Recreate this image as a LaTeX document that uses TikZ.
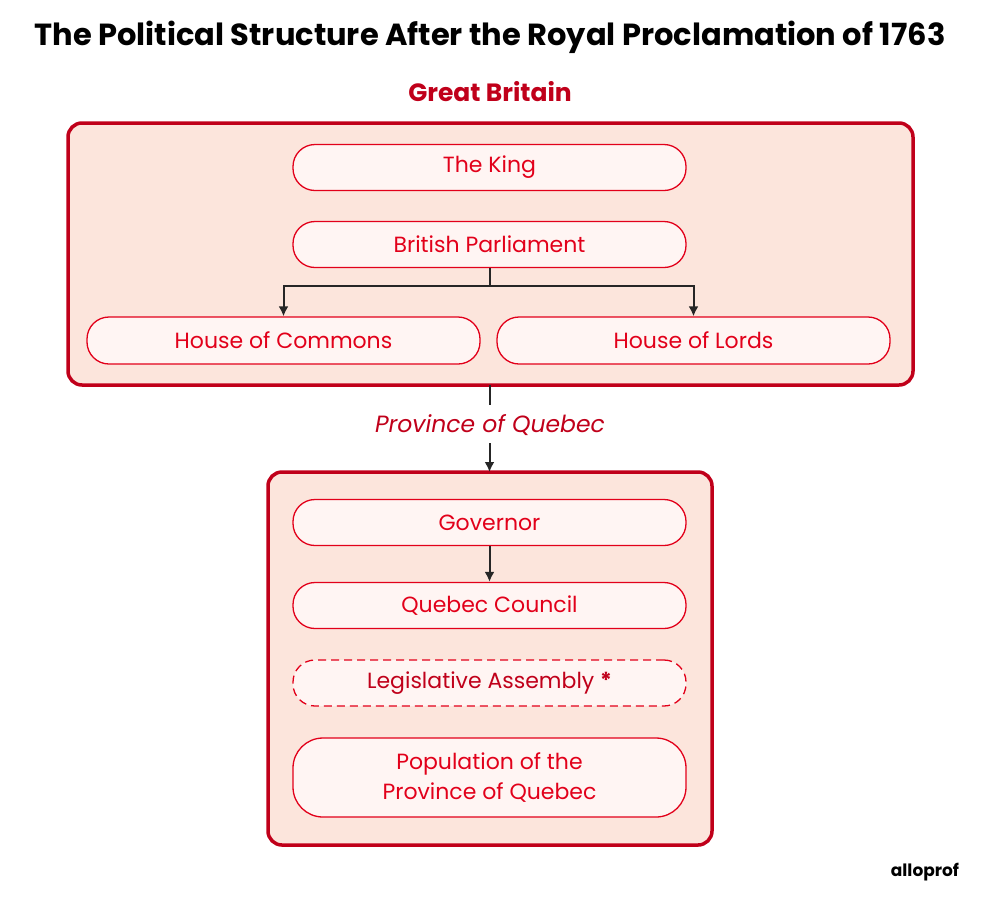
\documentclass[tikz,border=0pt]{standalone}
\usepackage{fontspec}
\setmainfont{Poppins}
\usetikzlibrary{arrows.meta}
\definecolor{darkred}{HTML}{C0001A}
\definecolor{brightred}{HTML}{E2001A}
\definecolor{peach}{HTML}{FCE5DC}
\definecolor{pale}{HTML}{FFF5F3}
\tikzstyle{frame} = [draw=darkred, line width=3.5pt, fill=peach, rounded corners=14pt]
\tikzstyle{block} = [draw=brightred, line width=1.3pt, fill=pale, rounded corners=22pt, text=brightred, font=\fontsize{22}{30}\selectfont, minimum width=393pt, minimum height=46pt, align=center, inner sep=0pt]
\tikzstyle{line} = [draw, line width=2pt, color=black!85, -{Latex[length=10pt,width=10pt]}]

\begin{document}
\begin{tikzpicture}[x=1pt, y=-1pt]
\useasboundingbox (0,0) rectangle (981,900);
\node [font=\fontsize{30.5}{36}\selectfont\bfseries] (title) at (490,37) {The Political Structure After the Royal Proclamation of 1763};
\node [font=\fontsize{25}{30}\selectfont\bfseries, text=darkred] (gb) at (490,92) {Great Britain};
\draw [frame] (68,123) rectangle (913,385);
\draw [frame] (268,472) rectangle (712,845);
\node [block] (king) at (489.5,167.5) {The King};
\node [block] (parl) at (489.5,244.5) {British Parliament};
\node [block, minimum height=47pt] (commons) at (283.5,340.5) {House of Commons};
\node [block, minimum height=47pt] (lords) at (693.5,340.5) {House of Lords};
\node [block] (gov) at (489.5,522.5) {Governor};
\node [block] (council) at (489.5,605.5) {Quebec Council};
\node [block, dashed, dash pattern=on 8pt off 5pt, text=darkred] (assembly) at (489.5,683) {Legislative Assembly \textbf{*}};
\node [block, minimum height=79pt, rounded corners=30pt] (pop) at (489.5,777.5) {Population of the\\Province of Quebec};
\node [font=\fontsize{23.5}{28}\selectfont\itshape, text=darkred] (prov) at (490,425) {Province of Quebec};
\node [font=\fontsize{17}{20}\selectfont\bfseries] (logo) at (925,872) {alloprof};
\coordinate (split) at (489.5,286);
\coordinate (top2) at (489.5,472);
% Draw the edges
\draw [line width=2pt, black!85] (parl.south) -- (split);
\path [line] (split) -| (commons.north);
\path [line] (split) -| (lords.north);
\draw [line width=2pt, black!85] (489.5,385) -- (489.5,405);
\path [line] (489.5,443) -- (top2);
\path [line] (gov) -- (council);
\end{tikzpicture}
\end{document}
